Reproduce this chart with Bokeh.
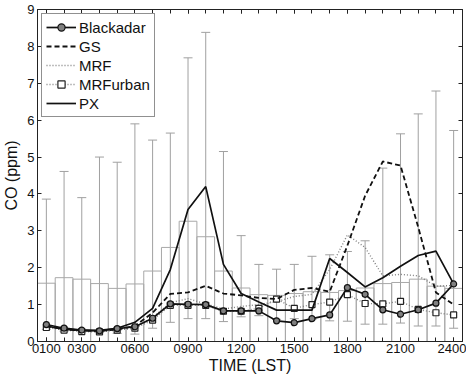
from bokeh.plotting import figure
from bokeh.models import (FixedTicker, LinearAxis, Range1d, Legend, LegendItem,
                          ColumnDataSource, Whisker, TeeHead)
from bokeh.embed import file_html
from bokeh.resources import INLINE

hours = list(range(1, 25))
xtick_hours = [1, 3, 6, 9, 12, 15, 18, 21, 24]
xtick_labels = ["0100", "0300", "0600", "0900", "1200", "1500", "1800", "2100", "2400"]
ytick_values = list(range(0, 10))

obs_mean = [1.58, 1.73, 1.69, 1.57, 1.44, 1.56, 1.91, 2.55, 3.26, 2.84, 1.91, 1.45,
            1.27, 1.25, 1.30, 1.35, 1.33, 1.38, 1.45, 1.57, 1.60, 1.69, 1.50, 1.44]
obs_max = [3.86, 4.61, 3.90, 5.00, 4.86, 5.90, 5.46, 5.65, 7.69, 8.38, 5.15, 2.87,
           2.09, 1.96, 2.09, 2.31, 2.35, 2.44, 2.73, 4.70, 5.63, 6.17, 6.79, 5.72]
obs_min = [0.33, 0.28, 0.26, 0.24, 0.22, 0.20, 0.36, 0.52, 0.62, 0.62, 0.54, 0.67,
           0.70, 0.60, 0.62, 0.60, 0.56, 0.55, 0.47, 0.47, 0.50, 0.42, 0.42, 0.36]

blackadar = [0.46, 0.36, 0.31, 0.29, 0.35, 0.40, 0.63, 1.02, 1.01, 1.00, 0.83, 0.83,
             0.83, 0.56, 0.51, 0.62, 0.72, 1.46, 1.28, 0.86, 0.74, 0.86, 1.04, 1.56]
gs = [0.42, 0.33, 0.30, 0.28, 0.33, 0.42, 0.78, 1.29, 1.33, 1.51, 1.30, 1.25,
      1.18, 1.15, 1.40, 1.45, 1.35, 2.60, 3.95, 4.88, 4.77, 3.10, 1.33, 1.00]
mrf = [0.40, 0.33, 0.30, 0.28, 0.32, 0.38, 0.65, 1.05, 1.16, 1.02, 0.88, 0.95,
       1.00, 1.08, 1.22, 1.28, 1.95, 2.89, 2.55, 1.78, 1.82, 1.78, 1.50, 1.52]
mrfurban = [0.38, 0.31, 0.27, 0.26, 0.31, 0.36, 0.58, 0.98, 0.98, 0.98, 0.82, 0.82,
            0.90, 1.15, 0.90, 1.00, 1.07, 1.27, 1.03, 1.02, 1.09, 0.87, 0.78, 0.72]
px = [0.42, 0.33, 0.30, 0.30, 0.36, 0.52, 0.90, 1.95, 3.58, 4.20, 2.09, 1.30,
      1.07, 0.85, 0.85, 0.85, 2.25, 1.87, 1.48, 1.73, 2.04, 2.33, 2.45, 1.56]

FONT = "Liberation Sans"

p = figure(width=466, height=376, x_range=Range1d(0.5, 24.5), y_range=Range1d(0, 9),
           output_backend="svg", toolbar_location=None,
           min_border_left=10, min_border_right=4, min_border_top=9, min_border_bottom=4)
p.xgrid.visible = False
p.ygrid.visible = False
p.outline_line_color = "#222222"
p.outline_line_width = 1
p.background_fill_color = "white"

src = ColumnDataSource(dict(x=hours, mean=obs_mean, lo=obs_min, hi=obs_max))
p.vbar(x="x", top="mean", bottom=0, width=1.0, source=src,
       fill_color=None, line_color="#a8a8a8", line_width=1)
wh = Whisker(base="x", upper="hi", lower="lo", source=src, dimension="height",
             line_color="#a0a0a0", line_width=1,
             upper_head=TeeHead(size=9, line_color="#a0a0a0", line_width=1),
             lower_head=TeeHead(size=9, line_color="#a0a0a0", line_width=1))
p.add_layout(wh)

r_mrf = p.line(hours, mrf, line_color="#808080", line_width=1.4, line_dash="1 2")
r_mrfu = p.line(hours, mrfurban, line_color="#808080", line_width=1.4, line_dash="1 2")
r_mrfu_m = p.scatter(hours, mrfurban, marker="square", size=6,
                     fill_color="white", line_color="#222222", line_width=1.2)
r_gs = p.line(hours, gs, line_color="#111111", line_width=1.8, line_dash="5 3")
r_px = p.line(hours, px, line_color="#111111", line_width=1.7)
r_bl = p.line(hours, blackadar, line_color="#111111", line_width=1.7)
r_bl_m = p.scatter(hours, blackadar, marker="circle", size=6,
                   fill_color="#808080", line_color="#111111", line_width=1.2)

legend = Legend(items=[
    LegendItem(label="Blackadar", renderers=[r_bl, r_bl_m]),
    LegendItem(label="GS", renderers=[r_gs]),
    LegendItem(label="MRF", renderers=[r_mrf]),
    LegendItem(label="MRFurban", renderers=[r_mrfu, r_mrfu_m]),
    LegendItem(label="PX", renderers=[r_px]),
], location="top_left")
legend.label_text_font = FONT
legend.label_text_font_size = "15px"
legend.label_text_color = "#111111"
legend.label_height = 18
legend.glyph_height = 18
legend.glyph_width = 30
legend.spacing = 1
legend.padding = 4
legend.margin = 4
legend.label_standoff = 3
legend.border_line_color = "#222222"
legend.border_line_width = 1
legend.background_fill_alpha = 1.0
p.add_layout(legend)

# bottom axis
xa = p.xaxis[0]
xa.ticker = FixedTicker(ticks=xtick_hours, minor_ticks=hours)
xa.major_label_overrides = {h: lab for h, lab in zip(xtick_hours, xtick_labels)}
xa.axis_label = "TIME (LST)"
# left axis
ya = p.yaxis[0]
ya.ticker = FixedTicker(ticks=ytick_values)
ya.axis_label = "CO (ppm)"

for ax in (xa, ya):
    ax.major_tick_in = 4
    ax.major_tick_out = 0
    ax.minor_tick_in = 4
    ax.minor_tick_out = 0
    ax.axis_line_color = "#222222"
    ax.major_tick_line_color = "#222222"
    ax.minor_tick_line_color = "#222222"
    ax.major_label_text_font = FONT
    ax.major_label_text_font_size = "13px"
    ax.major_label_text_color = "#111111"
    ax.axis_label_text_font = FONT
    ax.axis_label_text_font_size = "16px"
    ax.axis_label_text_font_style = "normal"
    ax.axis_label_text_color = "#111111"
    ax.major_label_standoff = 3
    ax.axis_label_standoff = 4
ya.minor_tick_line_color = None
xa.major_label_standoff = 2
xa.axis_label_standoff = 1

top = LinearAxis(ticker=FixedTicker(ticks=xtick_hours, minor_ticks=hours))
right = LinearAxis(ticker=FixedTicker(ticks=ytick_values))
for ax in (top, right):
    ax.major_tick_in = 4
    ax.major_tick_out = 0
    ax.minor_tick_in = 4
    ax.minor_tick_out = 0
    ax.major_label_text_font_size = "1px"
    ax.major_label_text_color = None
    ax.major_label_standoff = 0
    ax.axis_line_color = "#222222"
    ax.major_tick_line_color = "#222222"
    ax.minor_tick_line_color = "#222222"
right.minor_tick_line_color = None
p.add_layout(top, "above")
p.add_layout(right, "right")

open("out.html", "w").write(file_html(p, INLINE))
